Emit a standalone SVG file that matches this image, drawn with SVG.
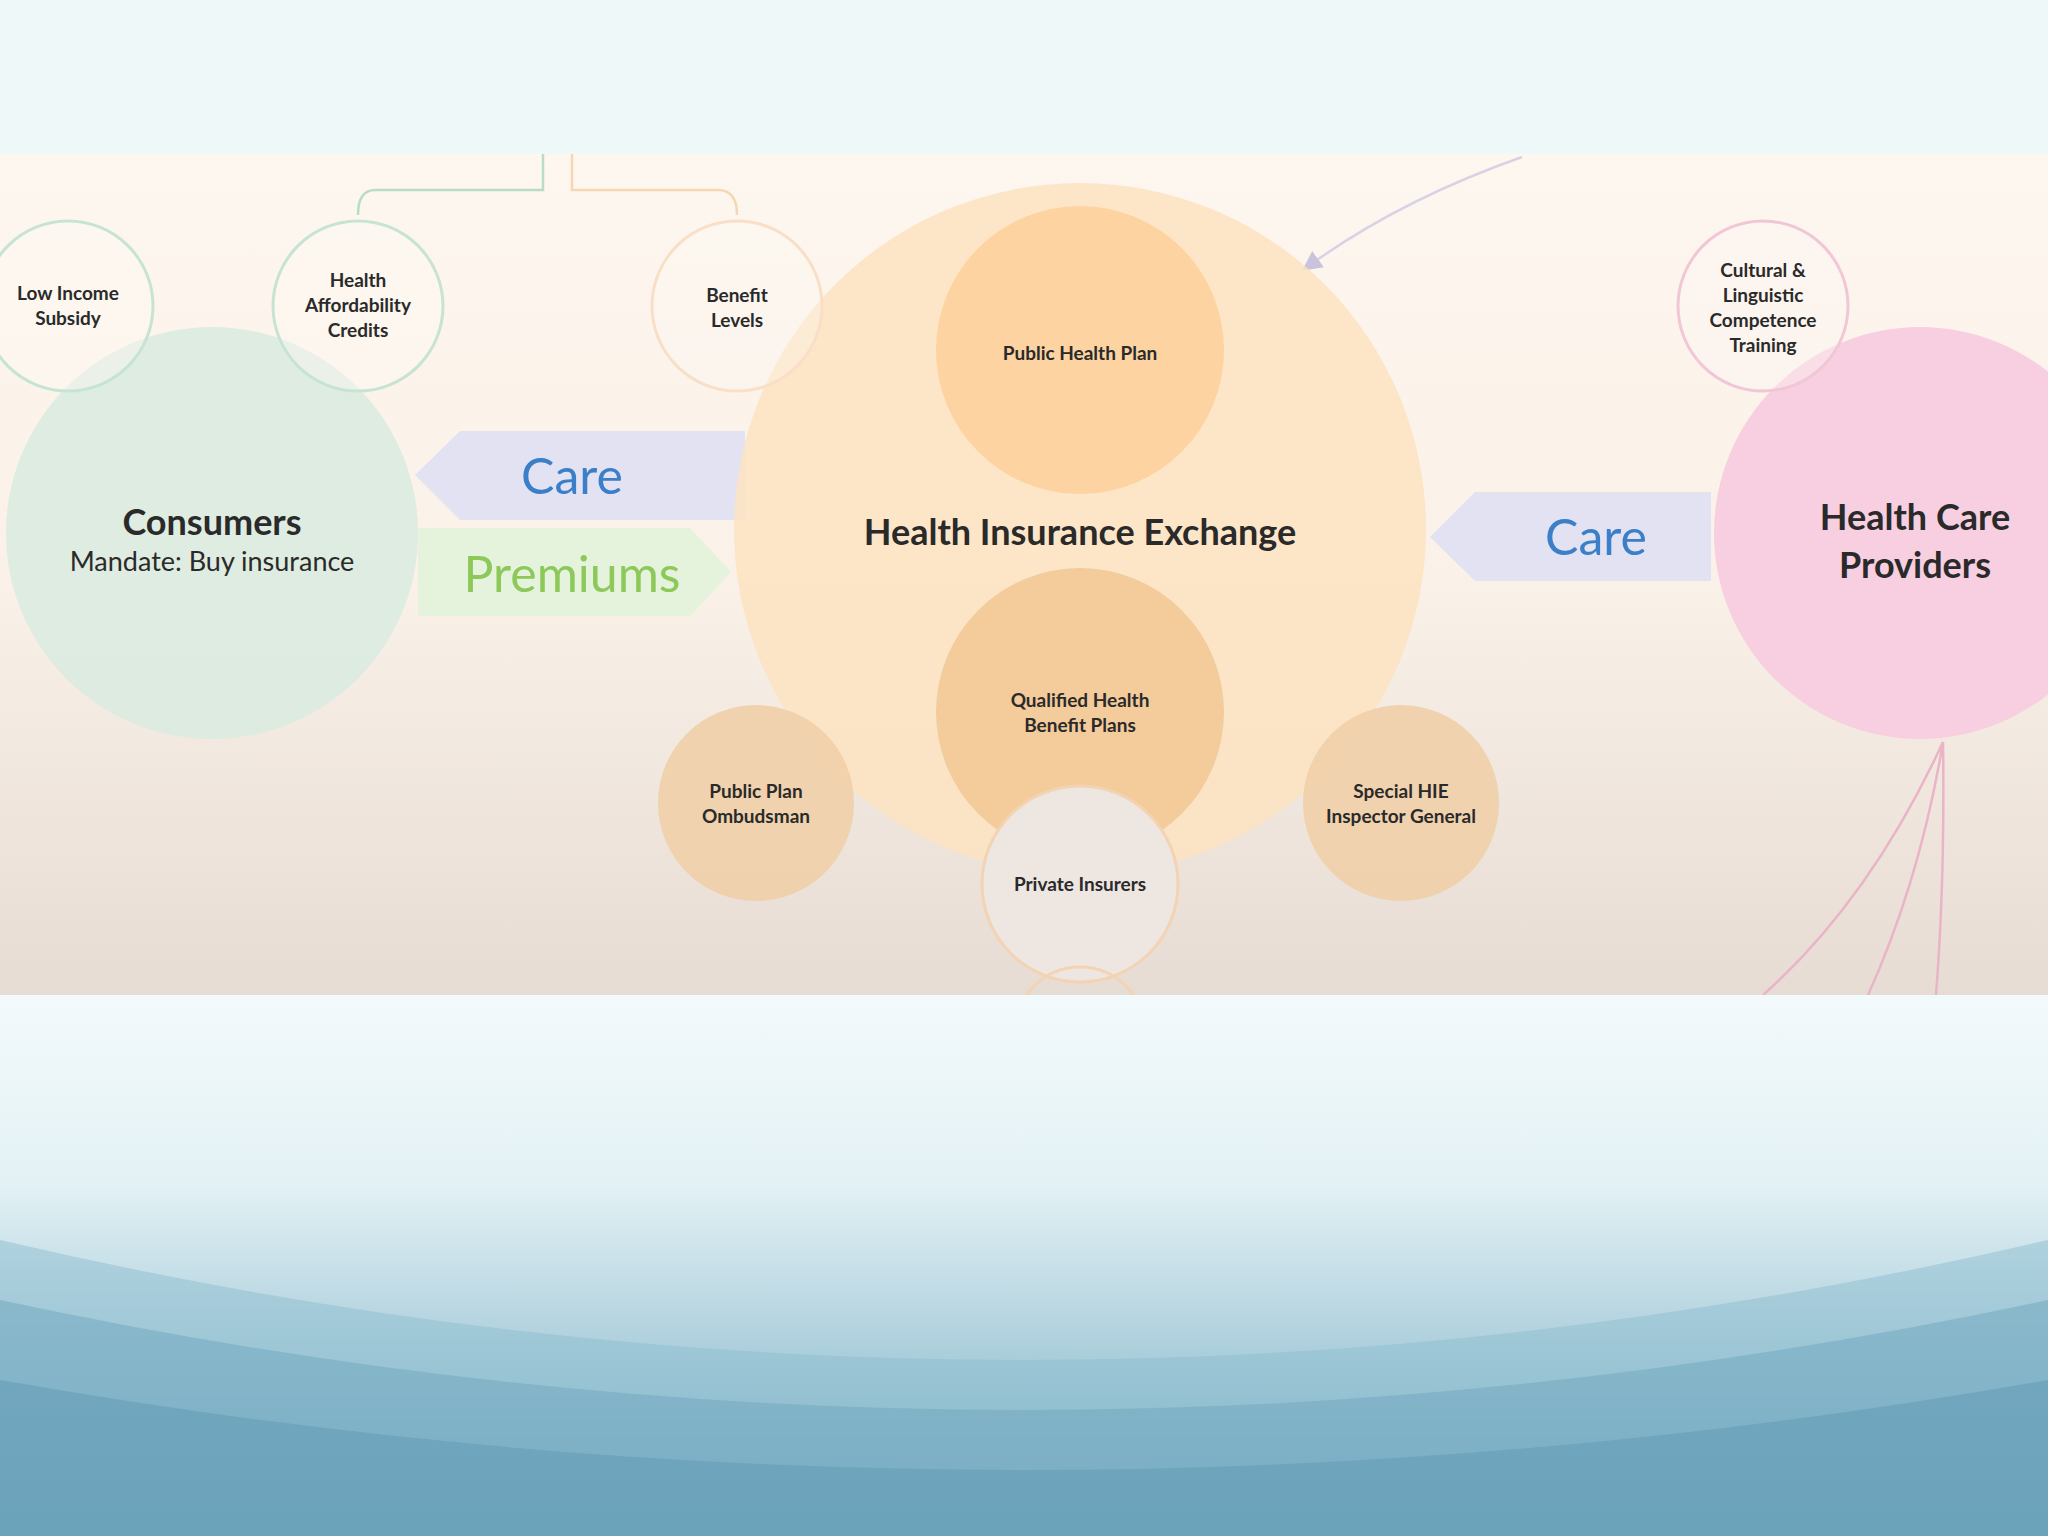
<svg xmlns="http://www.w3.org/2000/svg" width="2048" height="1536" viewBox="0 0 2048 1536">
<defs>
<linearGradient id="top" x1="0" y1="0" x2="0" y2="1"><stop offset="0" stop-color="#eef8f8"/><stop offset="1" stop-color="#fbfdfc"/></linearGradient>
<linearGradient id="band" x1="0" y1="0" x2="0" y2="1"><stop offset="0" stop-color="#fef7ef"/><stop offset="0.5" stop-color="#faf1e8"/><stop offset="1" stop-color="#e6dcd3"/></linearGradient>
<linearGradient id="sea" x1="0" y1="0" x2="0" y2="1"><stop offset="0" stop-color="#f3fafb"/><stop offset="0.35" stop-color="#e3f1f5"/><stop offset="1" stop-color="#6fa9c0"/></linearGradient>
<clipPath id="bc"><rect x="0" y="154" width="2048" height="841"/></clipPath>
<marker id="ah" viewBox="0 0 10 10" refX="5" refY="5" markerWidth="8" markerHeight="8" orient="auto"><path d="M0,0L10,5L0,10z" fill="#c9c4dc"/></marker>
</defs>
<style>
.t{font-family:Lato,"Liberation Sans",sans-serif;fill:#2a2a2a;text-anchor:middle}
.s{font-size:19px;font-weight:bold}
.b{font-size:36px;font-weight:bold}
.a{font-size:50px}
</style>
<rect width="2048" height="1536" fill="url(#top)"/>
<rect y="995" width="2048" height="541" fill="url(#sea)"/>
<path d="M0,1240 Q1024,1480 2048,1240 L2048,1536 L0,1536Z" fill="#8dbdd0" opacity="0.5"/>
<path d="M0,1300 Q1024,1520 2048,1300 L2048,1536 L0,1536Z" fill="#6fa6bd" opacity="0.5"/>
<path d="M0,1380 Q1024,1560 2048,1380 L2048,1536 L0,1536Z" fill="#5f9ab3" opacity="0.5"/>
<rect y="154" width="2048" height="841" fill="url(#band)"/>
<g clip-path="url(#bc)">
<g id="connectors" fill="none">
<path d="M543,154V190H375Q358,190 358,215" stroke="#b9dcc9" stroke-width="2.5"/>
<path d="M572,154V190H718Q737,190 737,215" stroke="#f5d6b5" stroke-width="2.5"/>
<path d="M1522,157Q1400,200 1310,265" stroke="#d8d2e6" stroke-width="2.5" marker-end="url(#ah)"/>
<path d="M1943,742Q1870,900 1763,995M1943,742Q1920,880 1868,995M1943,742Q1945,880 1936,995" stroke="#eab4c8" stroke-width="2.5"/>
</g>
<g id="arrows">
<path d="M415,475L460,431H745V520H460Z" fill="#e3e2f3"/>
<path d="M418,528H690L731,572L690,616H418Z" fill="#e5f2dc"/>
<path d="M1430,537L1475,492H1711V581H1475Z" fill="#e3e2f3"/>
</g>
<g id="consumers"><circle cx="212" cy="533" r="206" fill="#dcebe0" opacity="0.9"/></g>
<g id="lowincome"><circle cx="68" cy="306" r="85" fill="#fdfaf4" fill-opacity="0.4" stroke="#c6e3d4" stroke-width="3"/></g>
<g id="credits"><circle cx="358" cy="306" r="85" fill="#fdfaf4" fill-opacity="0.4" stroke="#c6e3d4" stroke-width="3"/></g>
<g id="hie"><circle cx="1080" cy="529" r="346" fill="#fde3c1" opacity="0.85"/></g>
<g id="benefit"><circle cx="737" cy="306" r="85" fill="#fdfaf4" fill-opacity="0.3" stroke="#f8dfc6" stroke-width="3"/></g>
<g id="php"><circle cx="1080" cy="350" r="144" fill="#fcd3a1"/></g>
<g id="qhbp"><circle cx="1080" cy="712" r="144" fill="#f4cb9b"/></g>
<g id="ombuds"><circle cx="756" cy="803" r="98" fill="#efcfa9" opacity="0.9"/></g>
<g id="special"><circle cx="1401" cy="803" r="98" fill="#efcfa9" opacity="0.9"/></g>
<g id="private"><circle cx="1080" cy="884" r="98" fill="#eee6e1" stroke="#f3d3b3" stroke-width="3"/></g>
<g id="small"><circle cx="1080" cy="1032" r="65" fill="none" stroke="#f3d3b3" stroke-width="3"/></g>
<g id="providers"><circle cx="1920" cy="533" r="206" fill="#f8cfe0"/></g>
<g id="cultural"><circle cx="1763" cy="306" r="85" fill="#fdf5f2" fill-opacity="0.4" stroke="#f1c6d6" stroke-width="3"/></g>
</g>
<g id="labels">
<text class="t s" x="68" y="300">Low Income</text><text class="t s" x="68" y="325">Subsidy</text>
<text class="t s" x="358" y="287">Health</text><text class="t s" x="358" y="312">Affordability</text><text class="t s" x="358" y="337">Credits</text>
<text class="t s" x="737" y="302">Benefit</text><text class="t s" x="737" y="327">Levels</text>
<text class="t s" x="1763" y="277">Cultural &amp;</text><text class="t s" x="1763" y="302">Linguistic</text><text class="t s" x="1763" y="327">Competence</text><text class="t s" x="1763" y="352">Training</text>
<text class="t s" x="1080" y="360">Public Health Plan</text>
<text class="t s" x="1080" y="707">Qualified Health</text><text class="t s" x="1080" y="732">Benefit Plans</text>
<text class="t s" x="756" y="798">Public Plan</text><text class="t s" x="756" y="823">Ombudsman</text>
<text class="t s" x="1401" y="798">Special HIE</text><text class="t s" x="1401" y="823">Inspector General</text>
<text class="t s" x="1080" y="891">Private Insurers</text>
<text class="t b" x="212" y="535">Consumers</text>
<text class="t" x="212" y="571" font-size="27">Mandate: Buy insurance</text>
<text class="t b" x="1080" y="545" font-size="35">Health Insurance Exchange</text>
<text class="t b" x="1915" y="530">Health Care</text><text class="t b" x="1915" y="578">Providers</text>
<text class="t a" x="572" y="494" style="fill:#3a7fc7">Care</text>
<text class="t a" x="572" y="592" style="fill:#8cc95a">Premiums</text>
<text class="t a" x="1596" y="555" style="fill:#3a7fc7">Care</text>
</g>
</svg>
